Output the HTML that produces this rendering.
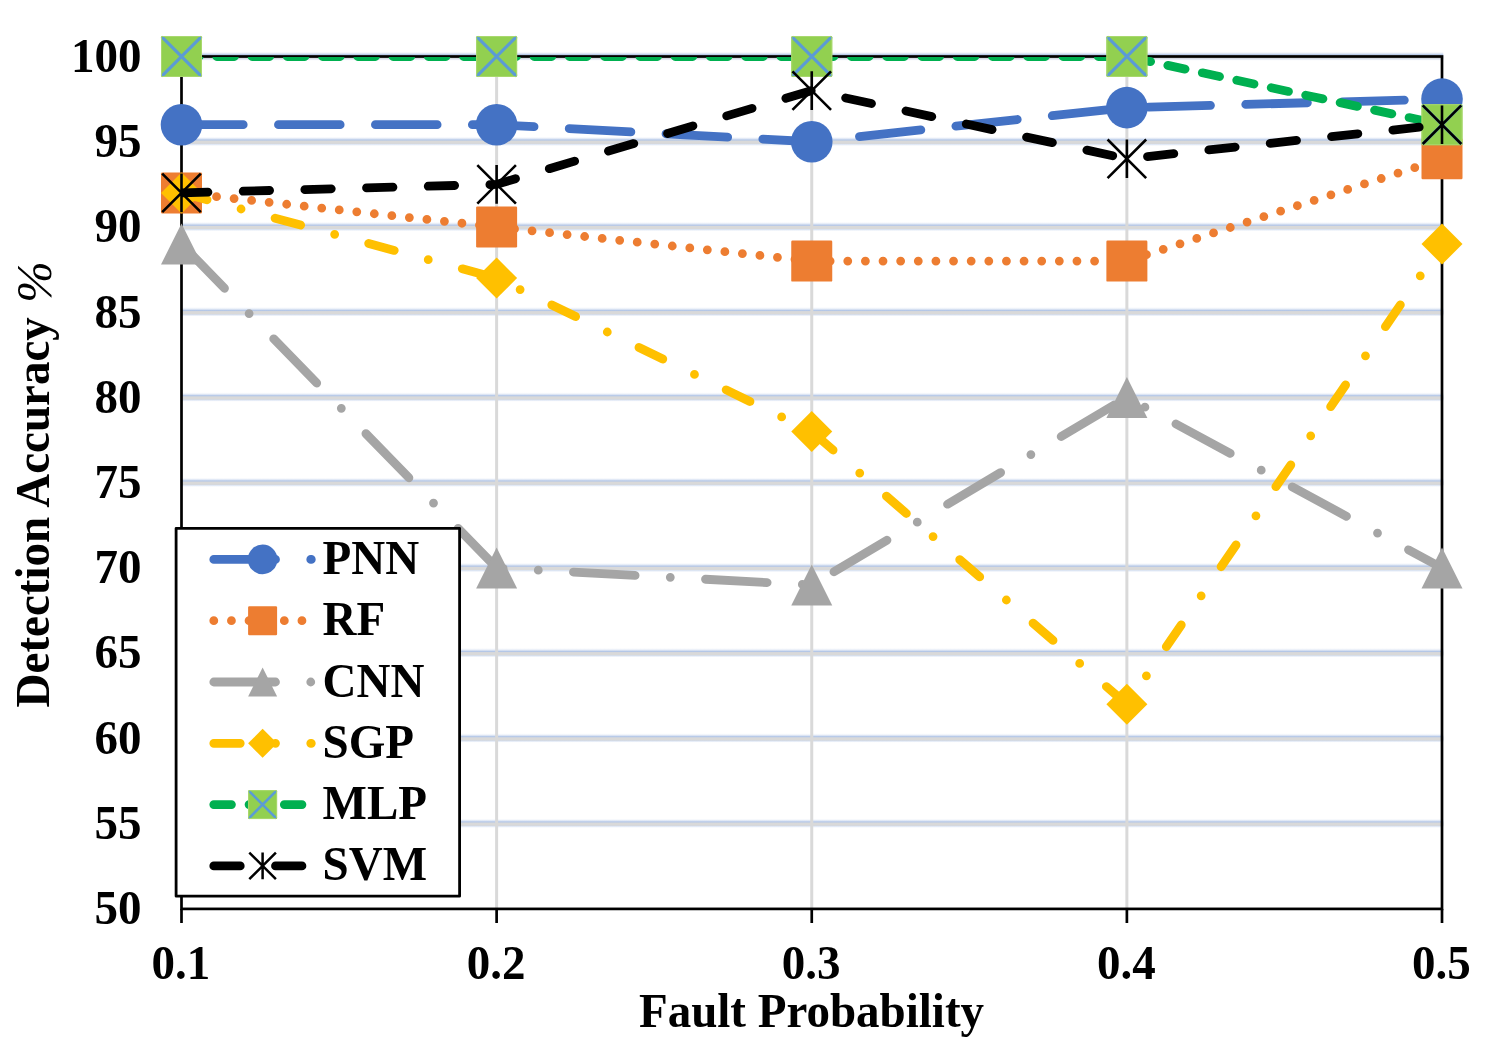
<!DOCTYPE html>
<html lang="en"><head><meta charset="utf-8"><title>Detection Accuracy vs Fault Probability</title>
<style>
html,body{margin:0;padding:0;background:#fff;}
body{width:1490px;height:1054px;overflow:hidden;}
svg{display:block;}
text{font-family:"Liberation Serif","Times New Roman",Times,serif;font-weight:bold;font-size:47px;fill:#000;}
.it{font-style:italic;font-weight:normal;}
</style></head><body>
<svg width="1490" height="1054" viewBox="0 0 1490 1054">
<defs>
<linearGradient id="glow" x1="0" y1="0" x2="0" y2="1"><stop offset="0" stop-color="#B4C7E7" stop-opacity="0"/><stop offset="0.12" stop-color="#B4C7E7" stop-opacity="0.12"/><stop offset="0.25" stop-color="#B4C7E7" stop-opacity="0.5"/><stop offset="0.36" stop-color="#B4C7E7" stop-opacity="1"/><stop offset="0.72" stop-color="#B4C7E7" stop-opacity="0.85"/><stop offset="0.83" stop-color="#B4C7E7" stop-opacity="0.45"/><stop offset="1" stop-color="#B4C7E7" stop-opacity="0"/></linearGradient>
<clipPath id="plot"><rect x="181.5" y="57.05" width="1260.5" height="852.4"/></clipPath>
</defs>
<rect width="1490" height="1054" fill="#fff"/>
<g id="hgrid">
<rect x="181.5" y="818.46" width="1261.8" height="9.4" fill="url(#glow)"/>
<rect x="181.5" y="822.56" width="1261.8" height="3.2" fill="#D9D9D9"/>
<rect x="181.5" y="733.22" width="1261.8" height="9.4" fill="url(#glow)"/>
<rect x="181.5" y="737.32" width="1261.8" height="3.2" fill="#D9D9D9"/>
<rect x="181.5" y="647.98" width="1261.8" height="9.4" fill="url(#glow)"/>
<rect x="181.5" y="652.08" width="1261.8" height="3.2" fill="#D9D9D9"/>
<rect x="181.5" y="562.74" width="1261.8" height="9.4" fill="url(#glow)"/>
<rect x="181.5" y="566.84" width="1261.8" height="3.2" fill="#D9D9D9"/>
<rect x="181.5" y="477.5" width="1261.8" height="9.4" fill="url(#glow)"/>
<rect x="181.5" y="481.6" width="1261.8" height="3.2" fill="#D9D9D9"/>
<rect x="181.5" y="392.26" width="1261.8" height="9.4" fill="url(#glow)"/>
<rect x="181.5" y="396.36" width="1261.8" height="3.2" fill="#D9D9D9"/>
<rect x="181.5" y="307.02" width="1261.8" height="9.4" fill="url(#glow)"/>
<rect x="181.5" y="311.12" width="1261.8" height="3.2" fill="#D9D9D9"/>
<rect x="181.5" y="221.78" width="1261.8" height="9.4" fill="url(#glow)"/>
<rect x="181.5" y="225.88" width="1261.8" height="3.2" fill="#D9D9D9"/>
<rect x="181.5" y="136.54" width="1261.8" height="9.4" fill="url(#glow)"/>
<rect x="181.5" y="140.64" width="1261.8" height="3.2" fill="#D9D9D9"/>
<rect x="181.5" y="51.3" width="1261.8" height="9.4" fill="url(#glow)"/>
<rect x="181.5" y="55.4" width="1261.8" height="3.2" fill="#D9D9D9"/>
</g>
<g id="vgrid" stroke="#D9D9D9" stroke-width="3">
<line x1="496.62" y1="56.5" x2="496.62" y2="908.9"/>
<line x1="811.75" y1="56.5" x2="811.75" y2="908.9"/>
<line x1="1126.88" y1="56.5" x2="1126.88" y2="908.9"/>
</g>
<g id="axes" stroke="#000" stroke-width="2.7" fill="none">
<rect x="181.5" y="56.5" width="1260.5" height="852.4"/>
<line x1="181.5" y1="908.9" x2="181.5" y2="923"/>
<line x1="496.62" y1="908.9" x2="496.62" y2="923"/>
<line x1="811.75" y1="908.9" x2="811.75" y2="923"/>
<line x1="1126.88" y1="908.9" x2="1126.88" y2="923"/>
<line x1="1442" y1="908.9" x2="1442" y2="923"/>
</g>
<g id="s-PNN">
<polyline points="181.5,124.69 496.62,124.69 811.75,141.74 1126.88,107.64 1442,99.12" fill="none" stroke="#4472C4" stroke-width="8.8" stroke-linecap="round" stroke-linejoin="round" stroke-dasharray="61.7 35.26" clip-path="url(#plot)"/>
<circle cx="181.5" cy="124.69" r="20.8" fill="#4472C4"/>
<circle cx="496.62" cy="124.69" r="20.8" fill="#4472C4"/>
<circle cx="811.75" cy="141.74" r="20.8" fill="#4472C4"/>
<circle cx="1126.88" cy="107.64" r="20.8" fill="#4472C4"/>
<circle cx="1442" cy="99.12" r="20.8" fill="#4472C4"/>
</g>
<g id="s-RF">
<polyline points="181.5,192.88 496.62,226.98 811.75,261.08 1126.88,261.08 1442,158.79" fill="none" stroke="#ED7D31" stroke-width="8.8" stroke-linecap="round" stroke-linejoin="round" stroke-dasharray="0 17.63" clip-path="url(#plot)"/>
<rect x="161" y="172.38" width="41" height="41" rx="1.2" fill="#ED7D31"/>
<rect x="476.12" y="206.48" width="41" height="41" rx="1.2" fill="#ED7D31"/>
<rect x="791.25" y="240.58" width="41" height="41" rx="1.2" fill="#ED7D31"/>
<rect x="1106.38" y="240.58" width="41" height="41" rx="1.2" fill="#ED7D31"/>
<rect x="1421.5" y="138.29" width="41" height="41" rx="1.2" fill="#ED7D31"/>
</g>
<g id="s-CNN">
<polyline points="181.5,244.03 496.62,567.94 811.75,584.99 1126.88,397.46 1442,567.94" fill="none" stroke="#A5A5A5" stroke-width="8.8" stroke-linecap="round" stroke-linejoin="round" stroke-dasharray="61.7 35.26 0 35.26" clip-path="url(#plot)"/>
<polygon points="181.5,223.53 202,264.53 161,264.53" fill="#A5A5A5"/>
<polygon points="496.62,547.44 517.12,588.44 476.12,588.44" fill="#A5A5A5"/>
<polygon points="811.75,564.49 832.25,605.49 791.25,605.49" fill="#A5A5A5"/>
<polygon points="1126.88,376.96 1147.38,417.96 1106.38,417.96" fill="#A5A5A5"/>
<polygon points="1442,547.44 1462.5,588.44 1421.5,588.44" fill="#A5A5A5"/>
</g>
<g id="s-SGP">
<polyline points="181.5,192.88 496.62,278.12 811.75,431.56 1126.88,704.32 1442,244.03" fill="none" stroke="#FFC000" stroke-width="8.8" stroke-linecap="round" stroke-linejoin="round" stroke-dasharray="26.44 35.26 0 35.26" clip-path="url(#plot)"/>
<polygon points="181.5,172.38 202,192.88 181.5,213.38 161,192.88" fill="#FFC000"/>
<polygon points="496.62,257.62 517.12,278.12 496.62,298.62 476.12,278.12" fill="#FFC000"/>
<polygon points="811.75,411.06 832.25,431.56 811.75,452.06 791.25,431.56" fill="#FFC000"/>
<polygon points="1126.88,683.82 1147.38,704.32 1126.88,724.82 1106.38,704.32" fill="#FFC000"/>
<polygon points="1442,223.53 1462.5,244.03 1442,264.53 1421.5,244.03" fill="#FFC000"/>
</g>
<g id="s-MLP">
<polyline points="181.5,56.5 496.62,56.5 811.75,56.5 1126.88,56.5 1442,124.69" fill="none" stroke="#00B050" stroke-width="8.8" stroke-linecap="round" stroke-linejoin="round" stroke-dasharray="17.63 17.63" clip-path="url(#plot)"/>
<g><rect x="161" y="36" width="41" height="41" rx="1.2" fill="#92D050"/><path d="M161.8 36.8L201.2 76.2M161.8 76.2L201.2 36.8" stroke="#5B9BD5" stroke-width="3.1" fill="none"/><rect x="161.5" y="36.5" width="40" height="40" rx="1" fill="none" stroke="#A9D86E" stroke-width="1"/></g>
<g><rect x="476.12" y="36" width="41" height="41" rx="1.2" fill="#92D050"/><path d="M476.93 36.8L516.33 76.2M476.93 76.2L516.33 36.8" stroke="#5B9BD5" stroke-width="3.1" fill="none"/><rect x="476.62" y="36.5" width="40" height="40" rx="1" fill="none" stroke="#A9D86E" stroke-width="1"/></g>
<g><rect x="791.25" y="36" width="41" height="41" rx="1.2" fill="#92D050"/><path d="M792.05 36.8L831.45 76.2M792.05 76.2L831.45 36.8" stroke="#5B9BD5" stroke-width="3.1" fill="none"/><rect x="791.75" y="36.5" width="40" height="40" rx="1" fill="none" stroke="#A9D86E" stroke-width="1"/></g>
<g><rect x="1106.38" y="36" width="41" height="41" rx="1.2" fill="#92D050"/><path d="M1107.17 36.8L1146.58 76.2M1107.17 76.2L1146.58 36.8" stroke="#5B9BD5" stroke-width="3.1" fill="none"/><rect x="1106.88" y="36.5" width="40" height="40" rx="1" fill="none" stroke="#A9D86E" stroke-width="1"/></g>
<g><rect x="1421.5" y="104.19" width="41" height="41" rx="1.2" fill="#92D050"/><path d="M1422.3 104.99L1461.7 144.39M1422.3 144.39L1461.7 104.99" stroke="#5B9BD5" stroke-width="3.1" fill="none"/><rect x="1422" y="104.69" width="40" height="40" rx="1" fill="none" stroke="#A9D86E" stroke-width="1"/></g>
</g>
<g id="s-SVM">
<polyline points="181.5,192.88 496.62,184.36 811.75,90.6 1126.88,158.79 1442,124.69" fill="none" stroke="#000000" stroke-width="8.8" stroke-linecap="round" stroke-linejoin="round" stroke-dasharray="26.44 35.26" clip-path="url(#plot)"/>
<path d="M162.2 173.58L200.8 212.18M162.2 212.18L200.8 173.58M181.5 173.58L181.5 212.18" stroke="#000" stroke-width="2.6" fill="none"/>
<path d="M477.32 165.06L515.92 203.66M477.32 203.66L515.92 165.06M496.62 165.06L496.62 203.66" stroke="#000" stroke-width="2.6" fill="none"/>
<path d="M792.45 71.3L831.05 109.9M792.45 109.9L831.05 71.3M811.75 71.3L811.75 109.9" stroke="#000" stroke-width="2.6" fill="none"/>
<path d="M1107.58 139.49L1146.17 178.09M1107.58 178.09L1146.17 139.49M1126.88 139.49L1126.88 178.09" stroke="#000" stroke-width="2.6" fill="none"/>
<path d="M1422.7 105.39L1461.3 143.99M1422.7 143.99L1461.3 105.39M1442 105.39L1442 143.99" stroke="#000" stroke-width="2.6" fill="none"/>
</g>
<g id="legend">
<rect x="176.1" y="528.3" width="283.5" height="367.9" fill="#fff" stroke="#000" stroke-width="2.8" stroke-linejoin="round"/>
<line x1="213.8" y1="559.4" x2="311.3" y2="559.4" stroke="#4472C4" stroke-width="8.8" stroke-linecap="round" stroke-dasharray="61.7 35.26"/>
<circle cx="262.6" cy="559.4" r="14.8" fill="#4472C4"/>
<text transform="translate(322.6 573.9) scale(1 1.03)">PNN</text>
<line x1="213.8" y1="620.7" x2="311.3" y2="620.7" stroke="#ED7D31" stroke-width="8.8" stroke-linecap="round" stroke-dasharray="0 17.63"/>
<rect x="248.1" y="606.2" width="29" height="29" rx="1.2" fill="#ED7D31"/>
<text transform="translate(322.6 635.2) scale(1 1.03)">RF</text>
<line x1="213.8" y1="682" x2="311.3" y2="682" stroke="#A5A5A5" stroke-width="8.8" stroke-linecap="round" stroke-dasharray="61.7 35.26 0 35.26"/>
<polygon points="262.6,667.5 277.1,696.5 248.1,696.5" fill="#A5A5A5"/>
<text transform="translate(322.6 696.5) scale(1 1.03)">CNN</text>
<line x1="213.8" y1="743.3" x2="311.3" y2="743.3" stroke="#FFC000" stroke-width="8.8" stroke-linecap="round" stroke-dasharray="26.44 35.26 0 35.26"/>
<polygon points="262.6,728.8 277.1,743.3 262.6,757.8 248.1,743.3" fill="#FFC000"/>
<text transform="translate(322.6 757.8) scale(1 1.03)">SGP</text>
<line x1="213.8" y1="804.6" x2="311.3" y2="804.6" stroke="#00B050" stroke-width="8.8" stroke-linecap="round" stroke-dasharray="17.63 17.63"/>
<g><rect x="248.1" y="790.1" width="29" height="29" rx="1.2" fill="#92D050"/><path d="M248.9 790.9L276.3 818.3M248.9 818.3L276.3 790.9" stroke="#5B9BD5" stroke-width="2.6" fill="none"/><rect x="248.6" y="790.6" width="28" height="28" rx="1" fill="none" stroke="#A9D86E" stroke-width="1"/></g>
<text transform="translate(322.6 819.1) scale(1 1.03)">MLP</text>
<line x1="213.8" y1="865.9" x2="311.3" y2="865.9" stroke="#000000" stroke-width="8.8" stroke-linecap="round" stroke-dasharray="26.44 35.26"/>
<path d="M249.3 852.6L275.9 879.2M249.3 879.2L275.9 852.6M262.6 852.6L262.6 879.2" stroke="#000" stroke-width="2.5" fill="none"/>
<text transform="translate(322.6 880.4) scale(1 1.03)">SVM</text>
</g>
<g id="ylabels" text-anchor="end">
<text transform="translate(141.6 924.2) scale(1 1.03)">50</text>
<text transform="translate(141.6 838.96) scale(1 1.03)">55</text>
<text transform="translate(141.6 753.72) scale(1 1.03)">60</text>
<text transform="translate(141.6 668.48) scale(1 1.03)">65</text>
<text transform="translate(141.6 583.24) scale(1 1.03)">70</text>
<text transform="translate(141.6 498) scale(1 1.03)">75</text>
<text transform="translate(141.6 412.76) scale(1 1.03)">80</text>
<text transform="translate(141.6 327.52) scale(1 1.03)">85</text>
<text transform="translate(141.6 242.28) scale(1 1.03)">90</text>
<text transform="translate(141.6 157.04) scale(1 1.03)">95</text>
<text transform="translate(141.6 71.8) scale(1 1.03)">100</text>
</g>
<g id="xlabels" text-anchor="middle">
<text transform="translate(180.9 979.1) scale(1 1.03)">0.1</text>
<text transform="translate(496.02 979.1) scale(1 1.03)">0.2</text>
<text transform="translate(811.15 979.1) scale(1 1.03)">0.3</text>
<text transform="translate(1126.28 979.1) scale(1 1.03)">0.4</text>
<text transform="translate(1441.4 979.1) scale(1 1.03)">0.5</text>
</g>
<text transform="translate(811.5 1027.3) scale(1 1.03)" text-anchor="middle">Fault Probability</text>
<text transform="translate(49.3 707.4) rotate(-90) scale(1 1.03)">Detection Accuracy<tspan class="it" dx="14.5" dy="1.6" style="font-size:50px">%</tspan></text>
</svg>
</body></html>
